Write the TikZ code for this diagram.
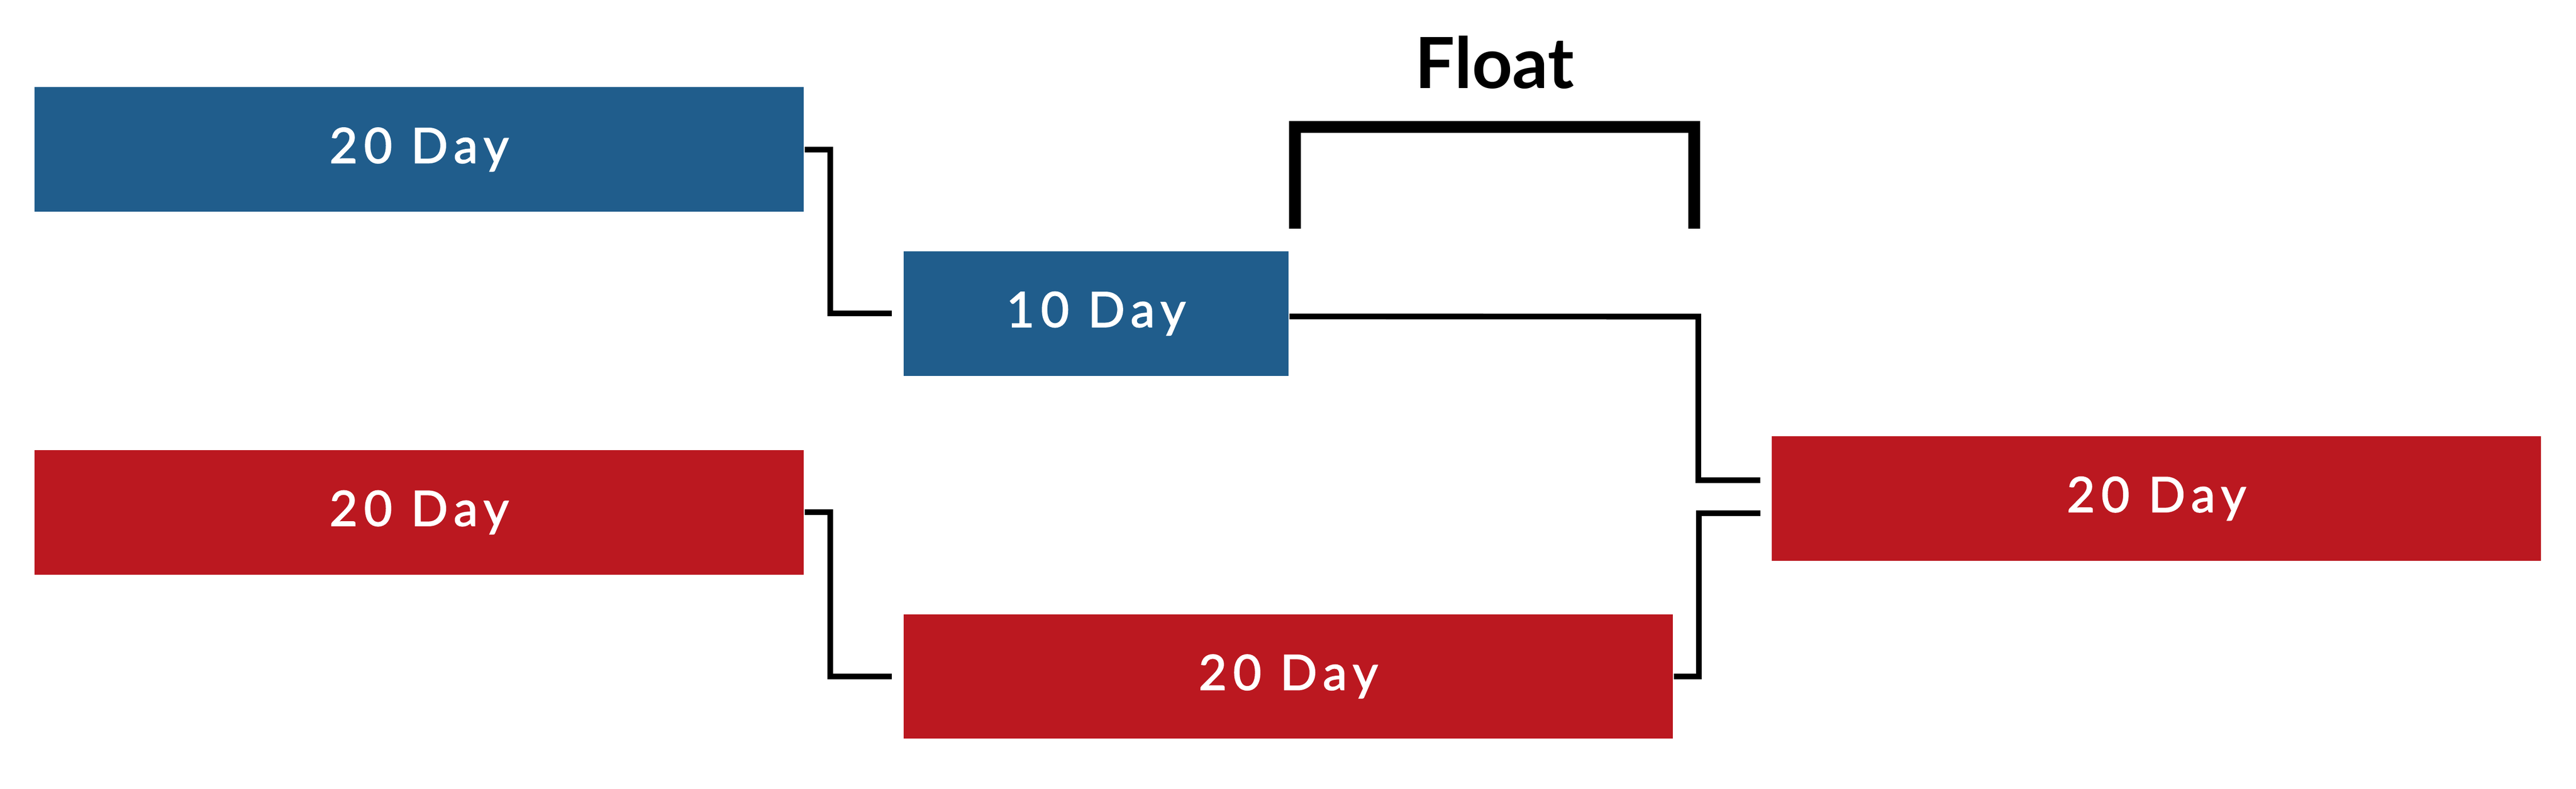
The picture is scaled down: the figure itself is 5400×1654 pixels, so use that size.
\documentclass[tikz,border=0pt]{standalone}
\usepackage{fontspec}
\setmainfont{Lato}
\newfontfamily\labelfont[LetterSpace=13,FakeBold=2]{Lato}
\newfontfamily\titlefont{Lato Bold}
\definecolor{boxblue}{HTML}{205D8C}
\definecolor{boxred}{HTML}{BB1820}
\tikzset{
  taskbox/.style={rectangle, inner sep=0pt, minimum height=26.1pt, text=white,
    font=\labelfont\fontsize{10.2}{12}\selectfont},
  bluebox/.style={taskbox, fill=boxblue},
  redbox/.style={taskbox, fill=boxred},
  conn/.style={draw=black, line width=1.2pt, line join=miter},
  floatbracket/.style={draw=black, line width=2.5pt, line join=miter}
}
\begin{document}
\begin{tikzpicture}[x=0.1pt,y=-0.1pt]
\useasboundingbox (0,0) rectangle (5400,1654);
\node[bluebox, minimum width=161.3pt] (b1) at (878.5,313.5) {20 Day};
\node[bluebox, minimum width=80.7pt] (b2) at (2297.5,657.5) {10 Day};
\node[redbox, minimum width=161.3pt] (r1) at (878.5,1074.5) {20 Day};
\node[redbox, minimum width=161.3pt] (r2) at (2700.5,1418.5) {20 Day};
\node[redbox, minimum width=161.3pt] (r3) at (4520.5,1045.5) {20 Day};
\node[anchor=base, inner sep=0pt, font=\titlefont\fontsize{14.8}{16}\selectfont] (flt) at (3133,185) {Float};
\coordinate (e1) at (1869,657.5);
\coordinate (e2) at (1869,1418.5);
\coordinate (e3) at (3690,1007);
\coordinate (e4) at (3690,1076);
\coordinate (bl) at (2715,480);
\coordinate (br) at (3552,480);
\draw[conn] (b1.east) -- (1740,313.5) |- (e1);
\draw[conn] (r1.east) -- (1740,1074.5) |- (e2);
\draw[conn] ([yshift=-0.6pt]b2.east) -- (3560,664) |- (e3);
\draw[conn] (r2.east) -- (3561,1418.5) |- (e4);
\draw[floatbracket] (bl) -- (2715,266.5) -- (3552,266.5) -- (br);
\end{tikzpicture}
\end{document}
